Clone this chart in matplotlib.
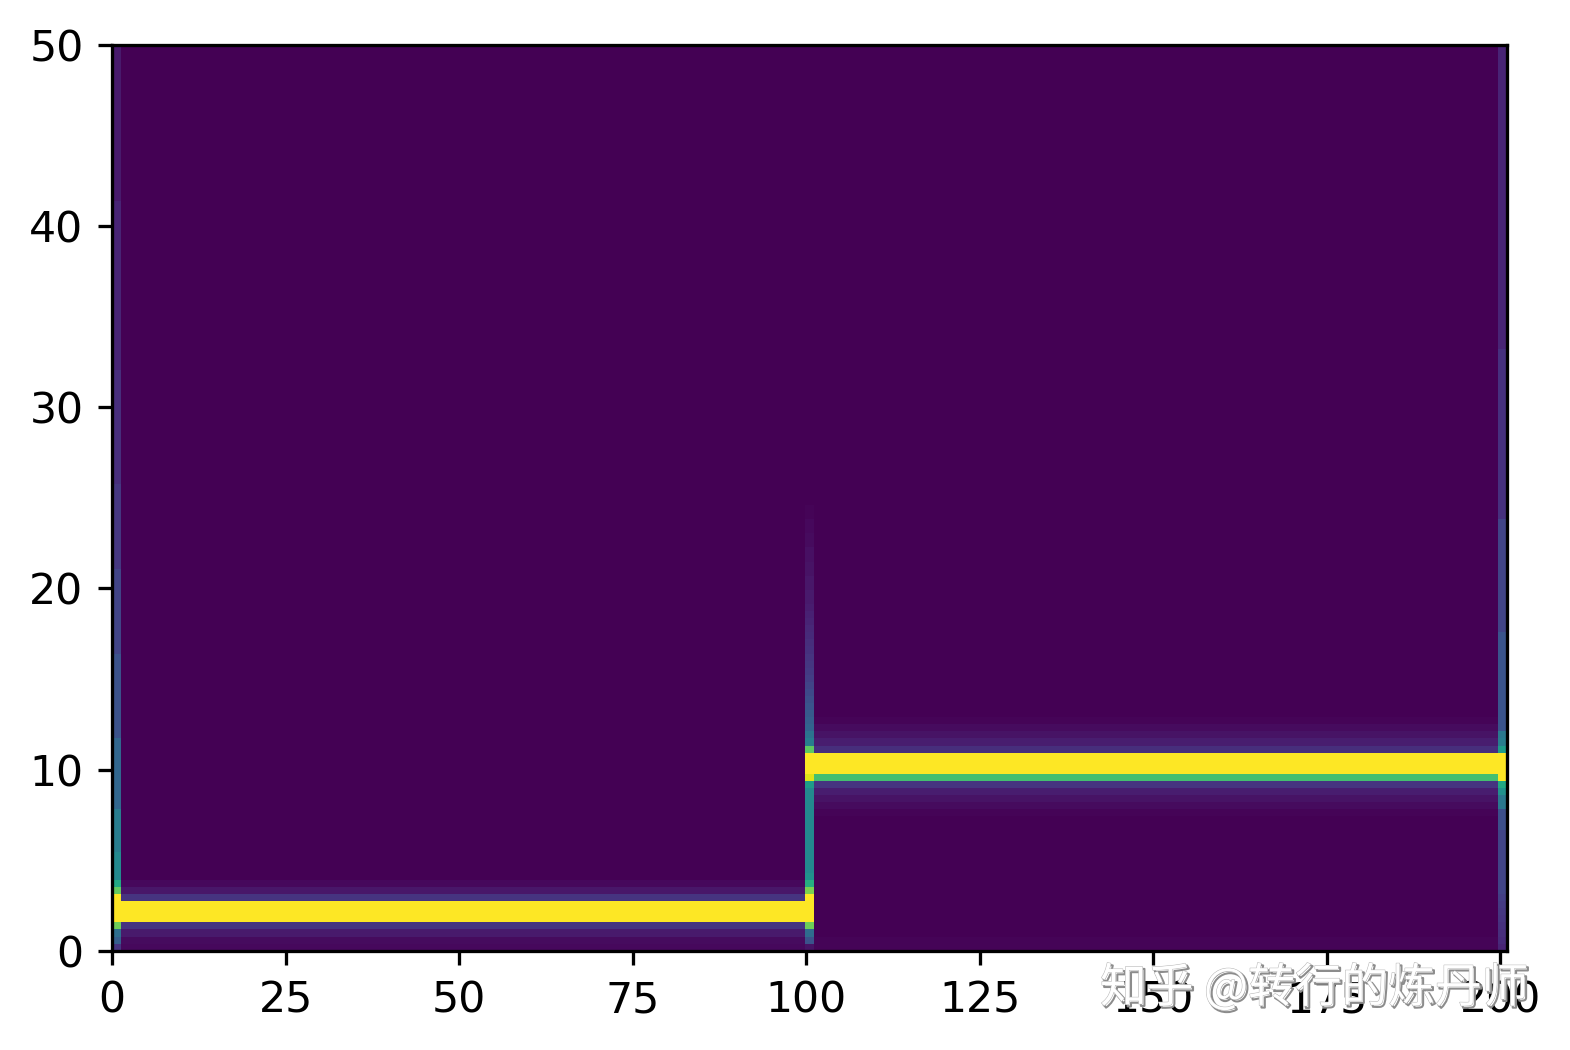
import matplotlib
matplotlib.use('Agg')
import matplotlib.pyplot as plt
import matplotlib.patheffects as pe
import numpy as np

# amplitude per frequency bin (0.39 Hz wide), low bins first
low_band = [0.02, 0.03, 0.07, 0.15, 1.0, 1.0, 1.0, 0.15, 0.06, 0.02]
high_band = [0.01] * 2 + [0.0] * 17 + [0.01, 0.03, 0.05, 0.08, 0.15, 0.7, 1.0, 1.0, 1.0,
                                       0.13, 0.08, 0.05, 0.03, 0.01]
first_col = [0.15, 0.3, 0.36, 0.78, 1.0, 1.0, 1.0, 1.0, 0.76, 0.6] + [0.47] * 4 + [0.42] * 6 \
    + [0.33] * 10 + [0.25] * 12 + [0.2] * 12 + [0.16] * 12 + [0.13] * 16 + [0.1] * 24 + [0.07] * 31
step_col = [0.05, 0.25, 0.35, 0.78, 1.0, 1.0, 1.0, 1.0, 0.8, 0.62, 0.5] + [0.47] * 12 \
    + [0.55, 0.95, 1.0, 1.0, 1.0, 0.75, 0.42, 0.38, 0.32, 0.3, 0.28, 0.26, 0.24, 0.22, 0.2, 0.18,
       0.17, 0.16, 0.15, 0.14, 0.13, 0.12, 0.11, 0.1, 0.09, 0.08, 0.07, 0.07, 0.06, 0.06, 0.05,
       0.05, 0.04, 0.04, 0.03, 0.03, 0.02, 0.02, 0.01, 0.01]
last_col = [0.1, 0.12, 0.13, 0.14, 0.15, 0.16, 0.17, 0.18] + [0.2] * 9 + [0.24] * 3 \
    + [0.4] * 2 + [0.5, 0.6, 1.0, 1.0, 1.0, 1.0, 0.55, 0.42, 0.4] + [0.26] * 14 \
    + [0.2] * 16 + [0.14] * 24 + [0.1] * 46

xticks = [0, 25, 50, 75, 100, 125, 150, 175, 200]
yticks = [0, 10, 20, 30, 40, 50]
watermark = '知乎 @转行的炼丹师'

N_BINS = 129
N_COLS = 157
STEP_IDX = 78
COL_W = 1.28
BIN_H = 0.390625
DPI = 295


def pad(profile):
    return (list(profile) + [0.0] * N_BINS)[:N_BINS]


Z = np.zeros((N_BINS, N_COLS))
Z[:, 1:STEP_IDX] = np.array(pad(low_band))[:, None]
Z[:, STEP_IDX + 1:N_COLS - 1] = np.array(pad(high_band))[:, None]
Z[:, 0] = pad(first_col)
Z[:, STEP_IDX] = pad(step_col)
Z[:, N_COLS - 1] = pad(last_col)

t_edges = np.arange(N_COLS + 1) * COL_W
f_edges = np.arange(N_BINS + 1) * BIN_H

plt.rcParams['font.size'] = 10.4
fig = plt.figure(figsize=(1570 / DPI, 1050 / DPI), dpi=DPI)
ax = fig.add_axes([112.3 / 1570, 1 - 950.7 / 1050, (1507 - 112.3) / 1570, (950.7 - 45) / 1050])
ax.pcolormesh(t_edges, f_edges, Z, cmap='viridis', vmin=0, vmax=1, shading='flat')
ax.set_xlim(0, t_edges[-1])
ax.set_ylim(0, 50)
ax.set_xticks(xticks)
ax.set_yticks(yticks)
ax.tick_params(axis='both', pad=3.5)

fig.text(1100 / 1570, 1 - 1002 / 1050, watermark, family=['Noto Sans CJK SC', 'DejaVu Sans'],
         fontsize=11.4, color='white', ha='left', va='baseline',
         path_effects=[pe.Stroke(linewidth=0.5, foreground='#8c8c8c', offset=(0.5, -0.5)),
                       pe.Stroke(linewidth=0.25, foreground='#b5b5b5'),
                       pe.Normal()])

fig.savefig('out.png', dpi=DPI)
